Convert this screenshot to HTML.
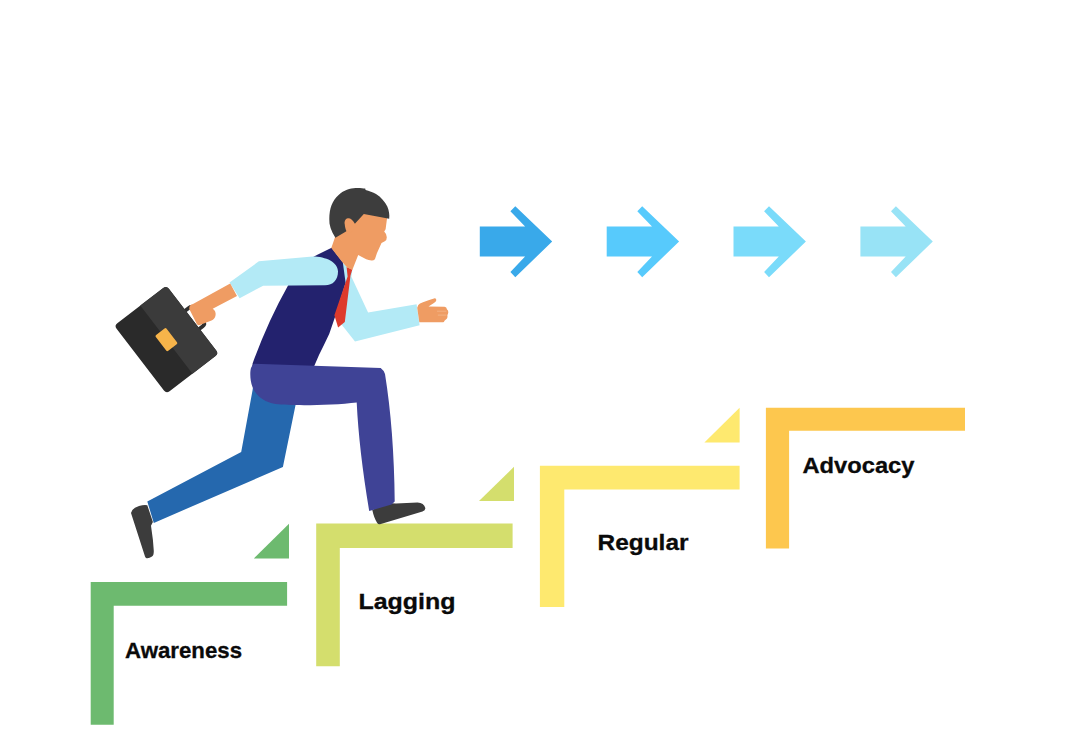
<!DOCTYPE html>
<html><head><meta charset="utf-8">
<style>
html,body{margin:0;padding:0;background:#fff;width:1078px;height:752px;overflow:hidden}
svg{display:block}
text{font-family:"Liberation Sans",sans-serif;font-weight:bold;fill:#0a0a0a;stroke:#0a0a0a;stroke-width:0.3px}
</style></head><body>
<svg width="1078" height="752" viewBox="0 0 1078 752">
<!-- steps -->
<path fill="#6DBA6F" d="M90.7,582 H287.1 V605.8 H113.7 V724.8 H90.7 Z"/>
<path fill="#6DBA6F" d="M253.8,558.5 L289,523.8 V558.5 Z"/>
<path fill="#D4DE6D" d="M316.2,523.4 H512.6 V547.9 H339.8 V666.2 H316.2 Z"/>
<path fill="#D4DE6D" d="M479,501 L514,466.8 V501 Z"/>
<path fill="#FEE96F" d="M539.9,465.8 H739.6 V489.4 H564.3 V607 H539.9 Z"/>
<path fill="#FEE96F" d="M704.4,442.6 L739.6,407.7 V442.6 Z"/>
<path fill="#FDC74E" d="M765.9,407.7 H965 V430.7 H789.1 V548.4 H765.9 Z"/>
<!-- labels -->
<text x="125" y="658.3" font-size="22" textLength="117" lengthAdjust="spacingAndGlyphs">Awareness</text>
<text x="358.5" y="608.9" font-size="22" textLength="97" lengthAdjust="spacingAndGlyphs">Lagging</text>
<text x="597.5" y="549.8" font-size="22" textLength="91" lengthAdjust="spacingAndGlyphs">Regular</text>
<text x="802.5" y="473.2" font-size="22" textLength="112" lengthAdjust="spacingAndGlyphs">Advocacy</text>
<!-- arrows -->
<defs><path id="arr" d="M0,0 H45.3 L30.6,-15.3 L35.5,-20.4 L72.4,14.9 L35.5,50.6 L30.6,45.5 L45.3,30 H0 Z"/></defs>
<use href="#arr" x="479.8" y="226.6" fill="#39A9EA"/>
<use href="#arr" x="606.7" y="226.6" fill="#57CAFC"/>
<use href="#arr" x="733.5" y="226.6" fill="#7ADBFA"/>
<use href="#arr" x="860.4" y="226.6" fill="#98E3F6"/>
<!-- man -->
<!-- back leg -->
<path fill="#2568AE" d="M254,380 L252.6,390.1 L241.2,452 L147.3,501.5 L153.8,522.9 L282.9,467.1 L295.5,405.3 L298,385 Z"/>
<!-- back shoe -->
<path fill="#3C3C3C" d="M131,513 Q132,508 139,506 Q144,504.5 147.3,505.2 L152.9,522 L151,525.7 L152.9,539.7 L153.8,551 Q153.8,555.5 152,556.6 Q149,558.6 146.5,558.2 Q145.3,557.8 145,556.5 Z"/>
<!-- shirt front/arm -->
<path fill="#B3EAF6" d="M341.6,261.3 L346.9,267.2 L352.3,269.9 L351.4,276.8 L368.1,312.6 L416.6,304.3 L419.6,325.2 L355,341.4 L338,320 L331,300 Z"/>
<!-- front hand -->
<path fill="#EF9C63" d="M417.2,307.8 Q418,304.5 420,303.5 L423,302.3 L429.2,300.1 L434,298.4 Q436.5,298 436.3,300.2 Q436,302 433.9,303 L428.5,306.6 L444.5,306.8 Q446.8,307 446.9,309.2 Q448.6,310.5 448.3,312.6 Q448,314.3 447.4,315 Q447.8,317.4 447,318.5 L444.5,320.7 Q444,322.2 443,322.2 L419.3,322.2 Z"/>
<path stroke="#F4B88C" stroke-width="0.8" fill="none" d="M437,311.2 H446.4 M437.8,315.1 H446.4"/>
<!-- vest -->
<path fill="#23226E" d="M314,256.4 L331.6,247.8 L342.8,262.3 L345.6,282.8 L335.1,316.7 L329.3,333.7 Q324,345 319,355 L312.5,370 L252,370 L252.6,363.4 Q268,321 287.9,285.7 L300,266 Z"/>
<!-- front shoe -->
<path fill="#3C3C3C" d="M372.3,510 L386,503 L396,503.4 L417.5,502.4 Q424,502.6 425.3,508 Q425.5,510.5 422.5,511.5 L380,524.2 Q378.2,524.6 377.2,523 Q374,518 372.3,510 Z"/>
<!-- front leg -->
<path fill="#3F4396" d="M254.1,363.8 L380.7,368 Q383.5,370 385,374 Q394,430 394.7,501.5 L391.5,504.6 L369.2,511 Q359,450 356.7,402.4 C340,404.5 310,405.5 295.6,405 C285,404.8 276,404.5 271,403 C262,400.5 255,394 252.5,387 C250,381 249.8,372 251,368 Q252,365 254.1,363.8 Z"/>
<!-- tie -->
<path fill="#DE3A2B" d="M346.6,267 L352.3,269.6 L350.5,275.5 L344.8,321.9 L338.1,327.4 L334.4,315.3 L347.6,276.5 Z"/>
<!-- back sleeve -->
<path fill="#B3EAF6" d="M229.5,282.5 L258.9,261.3 L312.6,256.4 C326,256.5 338,262 338,271.5 C338,280 333,285.3 325,285.3 L263.2,285.7 L239.6,298.2 Z"/>
<!-- handle -->
<g transform="translate(166.4,339.65) rotate(52.5)">
<path fill="none" stroke="#2F2F2F" stroke-width="3.8" d="M-11.5,-32 V-37 Q-11.5,-40.5 -8,-40.5 H8 Q11.5,-40.5 11.5,-37 V-32"/>
<rect x="-42.9" y="-32.95" width="85.8" height="65.9" rx="4" fill="#2A2A2A"/>
<path fill="#3B3B3B" d="M-38.9,-32.95 H38.9 Q42.9,-32.95 42.9,-28.95 V0 H-42.9 V-28.95 Q-42.9,-32.95 -38.9,-32.95 Z"/>
<rect x="-10" y="-6.8" width="20" height="13.6" rx="1.5" fill="#F7B44A"/>
</g>
<!-- back forearm + fist -->

<path fill="#EF9C63" d="M189.3,309 C189,306 190.5,304.5 193,304 L230.2,283.4 L237,296.1 L212.7,308.7 C215,310 216,312.5 215.6,315 C215.3,318 213.5,319.8 211.5,320.6 L200.5,324.8 C198.5,325.5 197.5,325 196.8,324 Z"/>
<!-- face -->
<path fill="#EF9C63" d="M340,228 L362,210 L388,214 L387,218.5 L385.6,229.3 L384.2,231.5 Q386.8,234 386.8,237.3 Q386.8,240.5 384.8,241.3 L381.5,243 L376.9,253.3 L374.9,259.3 Q373.5,260.8 371.5,260.6 Q368.5,260.3 366.2,259.3 L358.2,254.9 L352.3,269.9 L346.9,267.2 L341.6,261.3 L331.3,248 L335,237.3 Z"/>
<!-- hair -->
<path fill="#3D3D3D" d="M335.4,237.7 C331,231 329,225 329.3,219 C329.5,208 332,201 338.6,194.9 C344,190 350,188 355.6,187.9 C360,187.8 363,188 365.2,188.6 L365.6,190 C369,190.8 373,192.3 376,194 C381,197 385,202 387.3,206.5 C389,210.5 389.7,215 389.2,218.8 L363.8,214 L354.9,223.8 L346,231.5 Z"/>
<!-- ear -->
<path fill="#EF9C63" d="M347.9,218.2 C345,218.5 344.3,222 344.7,224 C345,227 345.5,229.5 346.5,231.2 L350,233 L358,226 L354.9,223.8 C353,220 350.5,218 347.9,218.2 Z"/>
</svg>
</body></html>
